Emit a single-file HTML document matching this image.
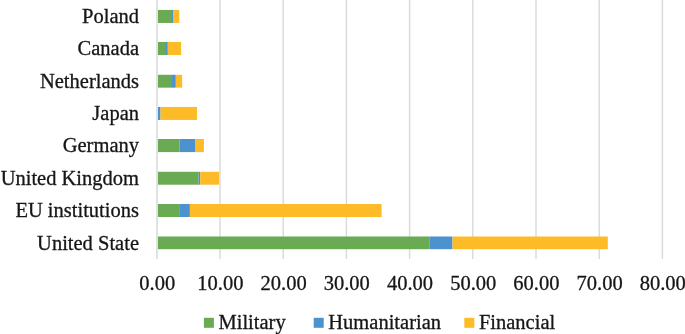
<!DOCTYPE html>
<html><head><meta charset="utf-8"><title>Aid chart</title><style>
html,body{margin:0;padding:0;background:#fff;overflow:hidden}
svg{display:block}
text{font-family:"Liberation Serif","Times New Roman",serif;fill:#161616;stroke:#161616;stroke-width:0.3px;font-size:20.5px}
</style></head><body>
<svg width="685" height="334" viewBox="0 0 685 334">
<rect width="685" height="334" fill="#fff"/>
<rect x="219.30" y="0" width="1.4" height="259" fill="#d8d9de"/>
<rect x="282.50" y="0" width="1.4" height="259" fill="#d8d9de"/>
<rect x="345.70" y="0" width="1.4" height="259" fill="#d8d9de"/>
<rect x="408.90" y="0" width="1.4" height="259" fill="#d8d9de"/>
<rect x="472.10" y="0" width="1.4" height="259" fill="#d8d9de"/>
<rect x="535.30" y="0" width="1.4" height="259" fill="#d8d9de"/>
<rect x="598.50" y="0" width="1.4" height="259" fill="#d8d9de"/>
<rect x="661.70" y="0" width="1.4" height="259" fill="#d8d9de"/>
<rect x="156.80" y="9.95" width="15.20" height="13.00" fill="#69AA52"/>
<rect x="172.00" y="9.95" width="1.50" height="13.00" fill="#4C92CE"/>
<rect x="173.50" y="9.95" width="5.80" height="13.00" fill="#FDBB28"/>
<text x="139.0" y="23.00" text-anchor="end">Poland</text>
<rect x="156.80" y="41.95" width="9.20" height="13.10" fill="#69AA52"/>
<rect x="166.00" y="41.95" width="1.80" height="13.10" fill="#4C92CE"/>
<rect x="167.80" y="41.95" width="13.30" height="13.10" fill="#FDBB28"/>
<text x="139.0" y="55.37" text-anchor="end">Canada</text>
<rect x="156.80" y="74.80" width="15.20" height="12.85" fill="#69AA52"/>
<rect x="172.00" y="74.80" width="3.80" height="12.85" fill="#4C92CE"/>
<rect x="175.80" y="74.80" width="6.30" height="12.85" fill="#FDBB28"/>
<text x="139.0" y="87.74" text-anchor="end">Netherlands</text>
<rect x="156.80" y="106.95" width="3.70" height="13.00" fill="#4C92CE"/>
<rect x="160.50" y="106.95" width="36.50" height="13.00" fill="#FDBB28"/>
<text x="139.0" y="120.11" text-anchor="end">Japan</text>
<rect x="156.80" y="139.00" width="22.70" height="13.10" fill="#69AA52"/>
<rect x="179.50" y="139.00" width="15.50" height="13.10" fill="#4C92CE"/>
<rect x="195.00" y="139.00" width="8.90" height="13.10" fill="#FDBB28"/>
<text x="139.0" y="152.48" text-anchor="end">Germany</text>
<rect x="156.80" y="171.80" width="41.80" height="12.90" fill="#69AA52"/>
<rect x="198.60" y="171.80" width="1.60" height="12.90" fill="#4C92CE"/>
<rect x="200.20" y="171.80" width="18.90" height="12.90" fill="#FDBB28"/>
<text x="139.0" y="184.85" text-anchor="end">United Kingdom</text>
<rect x="156.80" y="204.00" width="23.10" height="13.00" fill="#69AA52"/>
<rect x="179.90" y="204.00" width="10.00" height="13.00" fill="#4C92CE"/>
<rect x="189.90" y="204.00" width="191.70" height="13.00" fill="#FDBB28"/>
<text x="139.0" y="217.22" text-anchor="end">EU institutions</text>
<rect x="156.80" y="236.50" width="273.00" height="12.70" fill="#69AA52"/>
<rect x="429.80" y="236.50" width="22.70" height="12.70" fill="#4C92CE"/>
<rect x="452.50" y="236.50" width="155.30" height="12.70" fill="#FDBB28"/>
<text x="139.0" y="249.59" text-anchor="end">United State</text>
<rect x="156.00" y="0" width="2.0" height="259" fill="#e0e1e5"/>
<text x="157.20" y="289.6" text-anchor="middle">0.00</text>
<text x="220.40" y="289.6" text-anchor="middle">10.00</text>
<text x="283.60" y="289.6" text-anchor="middle">20.00</text>
<text x="346.80" y="289.6" text-anchor="middle">30.00</text>
<text x="410.00" y="289.6" text-anchor="middle">40.00</text>
<text x="473.20" y="289.6" text-anchor="middle">50.00</text>
<text x="536.40" y="289.6" text-anchor="middle">60.00</text>
<text x="599.60" y="289.6" text-anchor="middle">70.00</text>
<text x="662.80" y="289.6" text-anchor="middle">80.00</text>
<rect x="203.90" y="317.8" width="10" height="10" fill="#69AA52"/>
<text x="218.50" y="329.3">Military</text>
<rect x="313.70" y="317.8" width="10" height="10" fill="#4C92CE"/>
<text x="328.30" y="329.3">Humanitarian</text>
<rect x="464.30" y="317.8" width="10" height="10" fill="#FDBB28"/>
<text x="478.90" y="329.3">Financial</text>
</svg>
</body></html>
